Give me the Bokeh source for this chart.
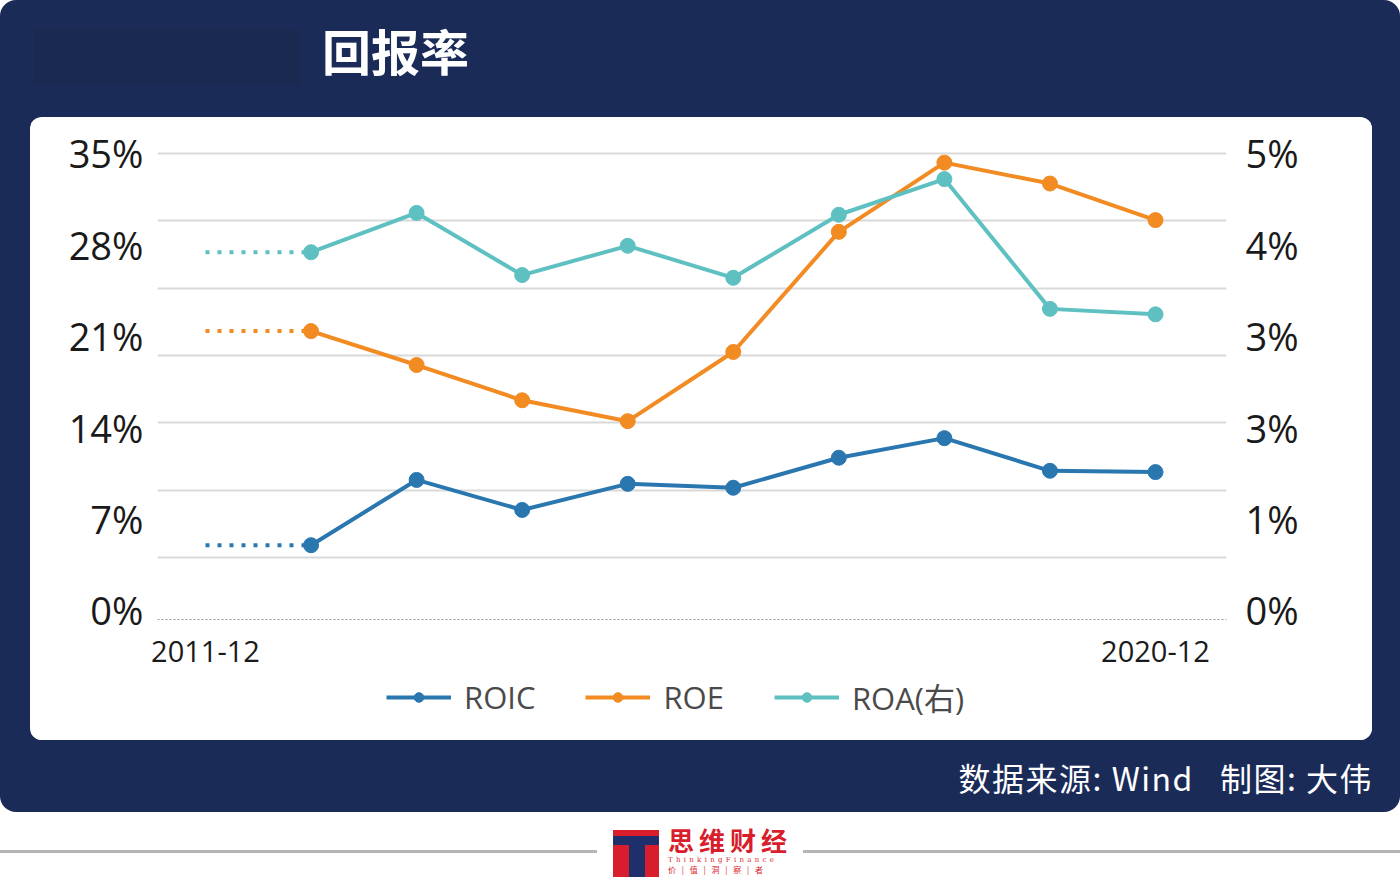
from bokeh.plotting import figure
from bokeh.models import (Range1d, LinearAxis, FixedTicker, Grid, Legend, LegendItem,
                          Div, Spacer)
from bokeh.layouts import column, row
from bokeh.embed import file_html
from bokeh.resources import INLINE

# ---------------- data ----------------
periods = ["2011-12", "2012-12", "2013-12", "2014-12", "2015-12",
           "2016-12", "2017-12", "2018-12", "2019-12", "2020-12"]
roic = [5.0, 10.0, 7.7, 9.7, 9.4, 11.7, 13.2, 10.7, 10.6]
roe = [21.4, 18.8, 16.1, 14.5, 19.8, 29.0, 34.3, 32.7, 29.9]
roa = [3.92, 4.35, 3.67, 3.99, 3.64, 4.33, 4.72, 3.30, 3.24]
series_names = ["ROIC", "ROE", "ROA(右)"]
left_ticks = [0, 7, 14, 21, 28, 35]
right_ticks = [0, 1, 2, 3, 4, 5]
right_labels = ["0%", "1%", "3%", "3%", "4%", "5%"]
grid_levels = [5, 10, 15, 20, 25, 30, 35]
shown_periods = [0, 9]

NAVY = "#1b2b58"
C_ROIC = "#2a77b0"
C_ROE = "#f28b22"
C_ROA = "#5fc0c2"
FONT = "'Open Sans', 'Noto Sans CJK SC'"

xs = list(range(1, len(periods)))
series = [(roic, C_ROIC, "default"), (roe, C_ROE, "default"), (roa, C_ROA, "roa")]

p = figure(width=1342, height=558, output_backend="svg", toolbar_location=None,
           x_range=Range1d(-0.4547, 9.6726), y_range=Range1d(-0.6893, 35.9956),
           min_border_left=127, min_border_right=146, min_border_top=23,
           min_border_bottom=56, background_fill_color="white",
           border_fill_color="white", outline_line_color=None,
           styles={"border-radius": "12px 12px 0 0", "overflow": "hidden",
                   "background-color": "#ffffff"})
p.extra_y_ranges = {"grid": Range1d(0.3936, 35.965), "roa": Range1d(-0.0985, 5.1422)}
p.xgrid.visible = False
p.ygrid.visible = False

p.add_layout(Grid(dimension=1, ticker=FixedTicker(ticks=grid_levels), y_range_name="grid",
                  grid_line_color="#d9d9d9", grid_line_width=2))

# x axis
xa = p.xaxis[0]
xa.ticker = FixedTicker(ticks=shown_periods)
xa.major_label_overrides = {i: periods[i] for i in shown_periods}
xa.axis_line_color = "#9a9a9a"
xa.axis_line_dash = "2 2"
xa.axis_line_width = 1
xa.major_tick_line_color = None
xa.minor_tick_line_color = None
xa.major_tick_out = 0
xa.major_tick_in = 0
xa.major_label_text_font = FONT
xa.major_label_text_font_size = "29px"
xa.major_label_text_color = "#1a1a1a"
xa.major_label_standoff = 21

# left axis
ya = p.yaxis[0]
ya.ticker = FixedTicker(ticks=left_ticks)
ya.major_label_overrides = {t: f"{t}%" for t in left_ticks}
ya.axis_line_color = None
ya.major_tick_line_color = None
ya.minor_tick_line_color = None
ya.major_tick_out = 0
ya.major_tick_in = 0
ya.major_label_text_font = FONT
ya.major_label_text_font_size = "38px"
ya.major_label_text_color = "#1a1a1a"
ya.major_label_standoff = 14

# right axis
ra = LinearAxis(y_range_name="roa", ticker=FixedTicker(ticks=right_ticks),
                major_label_overrides={t: l for t, l in zip(right_ticks, right_labels)},
                axis_line_color=None, major_tick_line_color=None, minor_tick_line_color=None,
                major_tick_out=0, major_tick_in=0,
                major_label_text_font=FONT, major_label_text_font_size="38px",
                major_label_text_color="#1a1a1a", major_label_standoff=19)
p.add_layout(ra, "right")

for vals, col, rng in series:
    p.line([0, 1], [vals[0], vals[0]], line_color=col, line_width=4, line_dash="4 8",
           y_range_name=rng)
    p.line(xs, vals, line_color=col, line_width=4, y_range_name=rng)
    p.scatter(xs, vals, size=15, fill_color=col, line_color=col, y_range_name=rng)

# ---------------- legend strip (own small figure, series kept out of its view) ----------------
lg = figure(width=1342, height=65, output_backend="svg", toolbar_location=None,
            x_range=Range1d(-20, -19), y_range=Range1d(-20, -19), min_border=0,
            background_fill_color="white", border_fill_color="white",
            outline_line_color=None,
            styles={"border-radius": "0 0 12px 12px", "overflow": "hidden",
                    "background-color": "#ffffff"})
lg.axis.visible = False
lg.grid.visible = False
items = []
for name, (vals, col, rng) in zip(series_names, series):
    ln = lg.line(xs, vals, line_color=col, line_width=4)
    sc = lg.scatter(xs, vals, size=11, fill_color=col, line_color=col)
    items.append(LegendItem(label=name, renderers=[ln, sc]))
legend = Legend(items=items, orientation="horizontal", location=(229, 21),
                border_line_color=None, background_fill_alpha=0,
                label_text_font=FONT, label_text_font_size="31px",
                label_text_color="#4a4a4a", glyph_width=65, glyph_height=24,
                label_standoff=13, spacing=50, padding=4, margin=0)
lg.add_layout(legend)

# ---------------- surrounding page ----------------
title_div = Div(width=1400, height=117, margin=0, text=(
    '<div style="position:relative;width:1400px;height:117px;">'
    '<div style="position:absolute;left:34px;top:30px;width:266px;height:55px;background:#19294f;"></div>'
    '<div style="position:absolute;left:322px;top:14px;font-family:\'Noto Sans CJK SC\';'
    'font-weight:700;font-size:49px;line-height:72px;color:#ffffff;">回报率</div></div>'))

footer_div = Div(width=1400, height=72, margin=0, text=(
    '<div style="position:relative;width:1400px;height:72px;">'
    '<div style="position:absolute;right:27px;top:15px;font-family:\'Noto Sans CJK SC\';'
    'font-size:32px;line-height:44px;letter-spacing:1.5px;color:#ffffff;white-space:pre;">'
    '数据来源: Wind   制图: 大伟</div></div>'))

bottom_div = Div(width=1400, height=66, margin=0, text=(
    '<div style="position:relative;width:1400px;height:66px;background:#ffffff;">'
    '<div style="position:absolute;left:0px;top:38px;width:597px;height:3px;background:#b4b4b4;"></div>'
    '<div style="position:absolute;left:803px;top:38px;width:597px;height:3px;background:#b4b4b4;"></div>'
    '<div style="position:absolute;left:613px;top:18px;width:46px;height:47px;background:#d81e2c;"></div>'
    '<div style="position:absolute;left:613px;top:24px;width:46px;height:9px;background:#1f2f6b;"></div>'
    '<div style="position:absolute;left:629px;top:33px;width:16px;height:32px;background:#1f2f6b;"></div>'
    '<div style="position:absolute;left:668px;top:13px;font-family:\'Noto Sans CJK SC\';font-weight:700;'
    'font-size:26px;line-height:30px;letter-spacing:5px;color:#d81e2c;">思维财经</div>'
    '<div style="position:absolute;left:668px;top:44px;font-family:\'DejaVu Serif\';'
    'font-size:7px;line-height:8px;letter-spacing:3.3px;color:#d81e2c;">ThinkingFinance</div>'
    '<div style="position:absolute;left:668px;top:53px;font-family:\'Noto Sans CJK SC\';'
    'font-size:8px;line-height:10px;letter-spacing:2px;color:#d81e2c;white-space:pre;">价 | 值 | 洞 | 察 | 者</div>'
    '</div>'))

chart_col = column(p, lg, width=1342, height=623, margin=0)
chart_row = row(Spacer(width=30, height=623, margin=0), chart_col,
                Spacer(width=28, height=623, margin=0), width=1400, height=623, margin=0)
navy = column(title_div, chart_row, footer_div, width=1400, height=812, margin=0,
              styles={"background-color": NAVY, "border-radius": "16px"})
page = column(navy, bottom_div, width=1400, height=878, margin=0,
              styles={"background-color": "#ffffff"})

open("out.html", "w").write(file_html(page, INLINE))
